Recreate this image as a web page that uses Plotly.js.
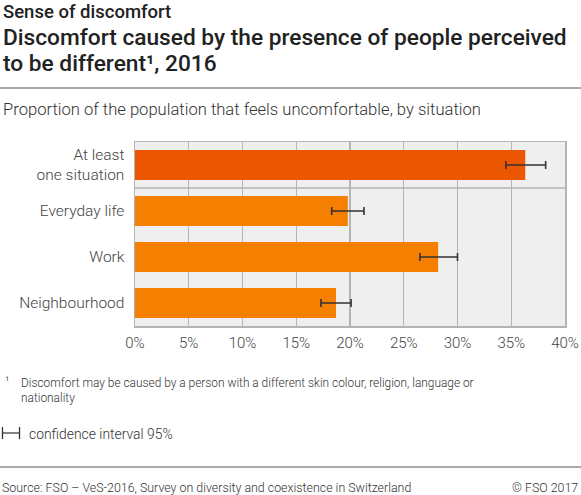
<!DOCTYPE html>
<html>
<head>
<meta charset="utf-8">
<script src="https://cdn.plot.ly/plotly-3.0.1.min.js"></script>
<style>html,body{margin:0;padding:0;background:#fff}#chart{width:581px;height:495px}</style>
</head>
<body>
<div id="chart"></div>
<script>
// Data
const categories = ["At least<br>one situation", "Everyday life", "Work", "Neighbourhood"];
const values = [36.3, 19.8, 28.2, 18.7];
const errLow = [1.8, 1.5, 1.7, 1.4];
const errHigh = [1.9, 1.5, 1.8, 1.4];
const barColors = ["#ec5600", "#f57f00", "#f57f00", "#f57f00"];
const tickVals = [0, 5, 10, 15, 20, 25, 30, 35, 40];
const tickText = ["0%", "5%", "10%", "15%", "20%", "25%", "30%", "35%", "40%"];

// Layout geometry (pixels)
const W = 581, H = 495;
const L = 135, R = 565, T = 142, B = 326;
const px = x => (x - L) / (R - L);
const py = y => (B - y) / (B - T);

const FONT = "Roboto, 'Noto Sans', sans-serif";

const trace = {
  type: "bar",
  orientation: "h",
  y: categories,
  x: values,
  marker: {color: barColors},
  width: 0.65,
  error_x: {
    type: "data",
    symmetric: false,
    array: errHigh,
    arrayminus: errLow,
    color: "#333333",
    thickness: 1.6,
    width: 4
  },
  hoverinfo: "none"
};

function txt(text, x, y, size, opts) {
  opts = opts || {};
  return Object.assign({
    text: text, xref: "paper", yref: "paper",
    x: px(x), y: py(y), xanchor: "left", yanchor: "middle",
    showarrow: false, align: "left",
    font: {family: FONT, size: size, color: opts.color || "#333333", weight: opts.weight || 300}
  }, opts.extra || {});
}

const layout = {
  width: W, height: H,
  margin: {l: L, r: W - R, t: T, b: H - B, pad: 0},
  paper_bgcolor: "#ffffff",
  plot_bgcolor: "#efefef",
  showlegend: false,
  bargap: 0.35,
  font: {family: FONT, size: 15, color: "#444444", weight: 300},
  xaxis: {
    range: [0, 40],
    tickvals: tickVals,
    ticktext: tickText,
    showgrid: true, gridcolor: "#b4b4b4", gridwidth: 1.2,
    showline: true, linecolor: "#b4b4b4", linewidth: 1.5, mirror: true,
    zeroline: false, ticks: "", ticklabelstandoff: 2,
    tickfont: {family: FONT, size: 15, color: "#444444", weight: 300},
    fixedrange: true
  },
  yaxis: {
    autorange: "reversed",
    showline: true, linecolor: "#b4b4b4", linewidth: 1.5, mirror: true,
    showgrid: false, ticks: "", ticklabelstandoff: 6,
    tickfont: {family: FONT, size: 15.5, color: "#444444", weight: 300},
    fixedrange: true
  },
  shapes: [
    // separator between total and sub-situations
    {type: "line", xref: "paper", yref: "y", x0: 0, x1: 1, y0: 0.5, y1: 0.5,
     line: {color: "#b4b4b4", width: 1.5}},
    // rule under title
    {type: "line", xref: "paper", yref: "paper", x0: px(0), x1: px(W), y0: py(88), y1: py(88),
     line: {color: "#555555", width: 1}},
    // rule above source
    {type: "line", xref: "paper", yref: "paper", x0: px(0), x1: px(W), y0: py(467), y1: py(467),
     line: {color: "#555555", width: 1}},
    // legend icon: confidence interval
    {type: "line", xref: "paper", yref: "paper", x0: px(2), x1: px(20), y0: py(433), y1: py(433),
     line: {color: "#333333", width: 1.2}},
    {type: "line", xref: "paper", yref: "paper", x0: px(2.5), x1: px(2.5), y0: py(427), y1: py(439),
     line: {color: "#333333", width: 1.3}},
    {type: "line", xref: "paper", yref: "paper", x0: px(19.5), x1: px(19.5), y0: py(427), y1: py(439),
     line: {color: "#333333", width: 1.3}}
  ],
  annotations: [
    txt("Sense of discomfort", 1, 12, 18.5, {color: "#222222", weight: 500}),
    txt("Discomfort caused by the presence of people perceived", 1, 38, 22.7, {color: "#222222", weight: 500}),
    txt("to be different¹, 2016", 1, 64, 22.7, {color: "#222222", weight: 500}),
    txt("Proportion of the population that feels uncomfortable, by situation", 1, 110, 16.6, {color: "#333333"}),
    txt("¹", 3, 381, 12, {color: "#333333"}),
    txt("Discomfort may be caused by a person with a different skin colour, religion, language or<br>nationality", 19, 390, 11.9, {color: "#333333"}),
    txt("confidence interval 95%", 27, 434, 13.9, {color: "#333333"}),
    txt("Source: FSO – VeS-2016, Survey on diversity and coexistence in Switzerland", 0, 487, 12.4, {color: "#333333"}),
    txt("© FSO 2017", 580, 487, 12.4, {color: "#333333", extra: {xanchor: "right"}})
  ]
};

Plotly.newPlot("chart", [trace], layout, {displayModeBar: false, staticPlot: true});
</script>
</body>
</html>
